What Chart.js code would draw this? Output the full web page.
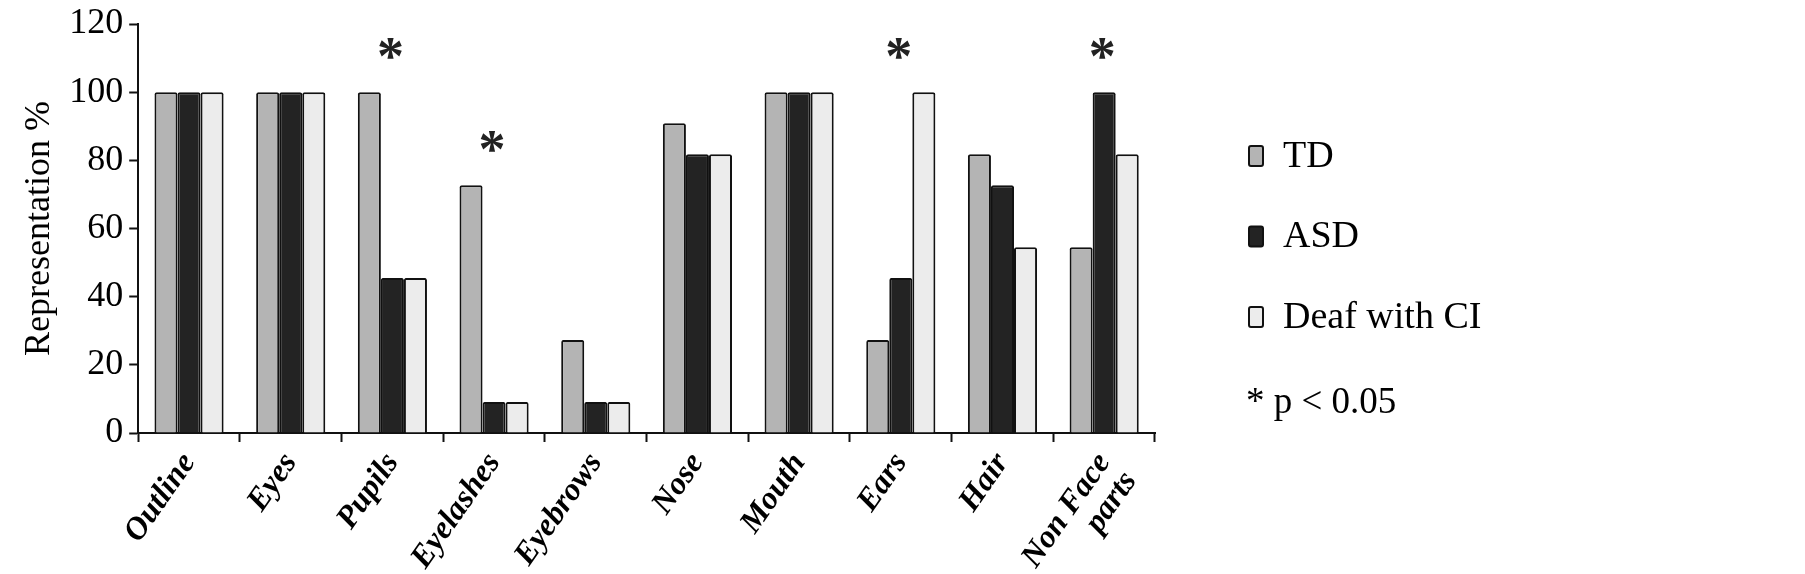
<!DOCTYPE html>
<html>
<head>
<meta charset="utf-8">
<script src="https://cdn.jsdelivr.net/npm/chart.js@4.4.1/dist/chart.umd.min.js"></script>
<style>
    html, body { margin: 0; padding: 0; background: #fff; }
    #wrap { width: 1805px; height: 574px; }
</style>
</head>
<body>
<div id="wrap"><canvas id="faceChart"></canvas></div>
<script>
// ===============================================
// Data
// ===============================================
const categories = ['Outline', 'Eyes', 'Pupils', 'Eyelashes', 'Eyebrows', 'Nose', 'Mouth', 'Ears', 'Hair', ['Non Face', 'parts']];
const tdValues   = [100, 100, 100, 72.7, 27.3, 90.9, 100, 27.3, 81.8, 54.5];
const asdValues  = [100, 100, 45.5, 9.1, 9.1, 81.8, 100, 45.5, 72.7, 100];
const deafValues = [100, 100, 45.5, 9.1, 9.1, 81.8, 100, 100, 54.5, 81.8];
const significant = [false, false, true, true, false, false, false, true, false, true];
const yTicks = [0, 20, 40, 60, 80, 100, 120];
const noteText = '* p < 0.05';

const serif = "'Liberation Serif', 'Times New Roman', serif";

// ===============================================
// Asterisks
// ===============================================
const starPlugin = {
    id: 'stars',
    afterDatasetsDraw(chart) {
        const { ctx, scales: { x, y } } = chart;
        ctx.save();
        ctx.font = `bold 54px ${serif}`;
        ctx.fillStyle = '#222';
        ctx.textAlign = 'center';
        ctx.textBaseline = 'middle';
        significant.forEach((sig, i) => {
            if (!sig) return;
            const top = Math.max(tdValues[i], asdValues[i], deafValues[i]);
            ctx.fillText('*', x.getPixelForValue(i) - 2, y.getPixelForValue(top + 11) + 5);
        });
        ctx.restore();
    }
};

// ===============================================
// Legend (drawn next to the plot, with the note)
// ===============================================
const legendPlugin = {
    id: 'sideLegend',
    afterDraw(chart) {
        const { ctx, chartArea } = chart;
        const boxX = chartArea.right + 94;
        const textX = boxX + 34;
        const firstY = chartArea.top + 132;
        const step = 80.5;

        ctx.save();
        ctx.font = `38px ${serif}`;
        ctx.textAlign = 'left';
        ctx.textBaseline = 'middle';
        chart.data.datasets.forEach((ds, i) => {
            const cy = firstY + i * step;
            ctx.beginPath();
            ctx.roundRect(boxX, cy - 10, 14, 20, 2);
            ctx.fillStyle = ds.backgroundColor;
            ctx.fill();
            ctx.lineWidth = 2;
            ctx.strokeStyle = '#111';
            ctx.stroke();
            ctx.fillStyle = '#000';
            ctx.fillText(ds.label, textX, cy + 1);
        });
        ctx.font = `37px ${serif}`;
        ctx.fillText(noteText, boxX - 3, firstY + 3 * step + 6);
        ctx.restore();
    }
};

// ===============================================
// Chart
// ===============================================
const barStyle = { borderColor: '#111', borderWidth: 2, borderRadius: 2, borderSkipped: 'bottom' };

new Chart(document.getElementById('faceChart'), {
    type: 'bar',
    data: {
        labels: categories,
        datasets: [
            { label: 'TD', data: tdValues, backgroundColor: '#b4b4b4', ...barStyle },
            { label: 'ASD', data: asdValues, backgroundColor: '#232323', ...barStyle },
            { label: 'Deaf with CI', data: deafValues, backgroundColor: '#ececec', ...barStyle }
        ]
    },
    options: {
        responsive: true,
        maintainAspectRatio: false,
        animation: false,
        categoryPercentage: 0.68,
        barPercentage: 1.0,
        layout: { padding: { left: 16, right: 650, top: 21, bottom: 0 } },
        plugins: {
            tooltip: { enabled: false },
            legend: { display: false }
        },
        scales: {
            x: {
                grid: { drawOnChartArea: false, drawTicks: true, tickLength: 9, tickColor: '#111', tickWidth: 2, offset: true },
                border: { color: '#111', width: 2 },
                ticks: {
                    color: '#000',
                    font: { family: serif, size: 32, style: 'italic', weight: 'bold', lineHeight: 1.0 },
                    minRotation: 55,
                    maxRotation: 55,
                    autoSkip: false,
                    padding: 6
                },
                afterFit: axis => { axis.height = 141; }
            },
            y: {
                min: 0,
                max: 120,
                afterBuildTicks: axis => { axis.ticks = yTicks.map(v => ({ value: v })); },
                grid: { drawOnChartArea: false, drawTicks: true, tickLength: 9, tickColor: '#111', tickWidth: 2 },
                border: { color: '#111', width: 2 },
                ticks: { color: '#000', font: { family: serif, size: 36, lineHeight: 1.0 }, padding: 6 },
                title: { display: true, text: 'Representation %', color: '#000', font: { family: serif, size: 36 }, padding: 2 }
            }
        }
    },
    plugins: [starPlugin, legendPlugin]
});
</script>
</body>
</html>
